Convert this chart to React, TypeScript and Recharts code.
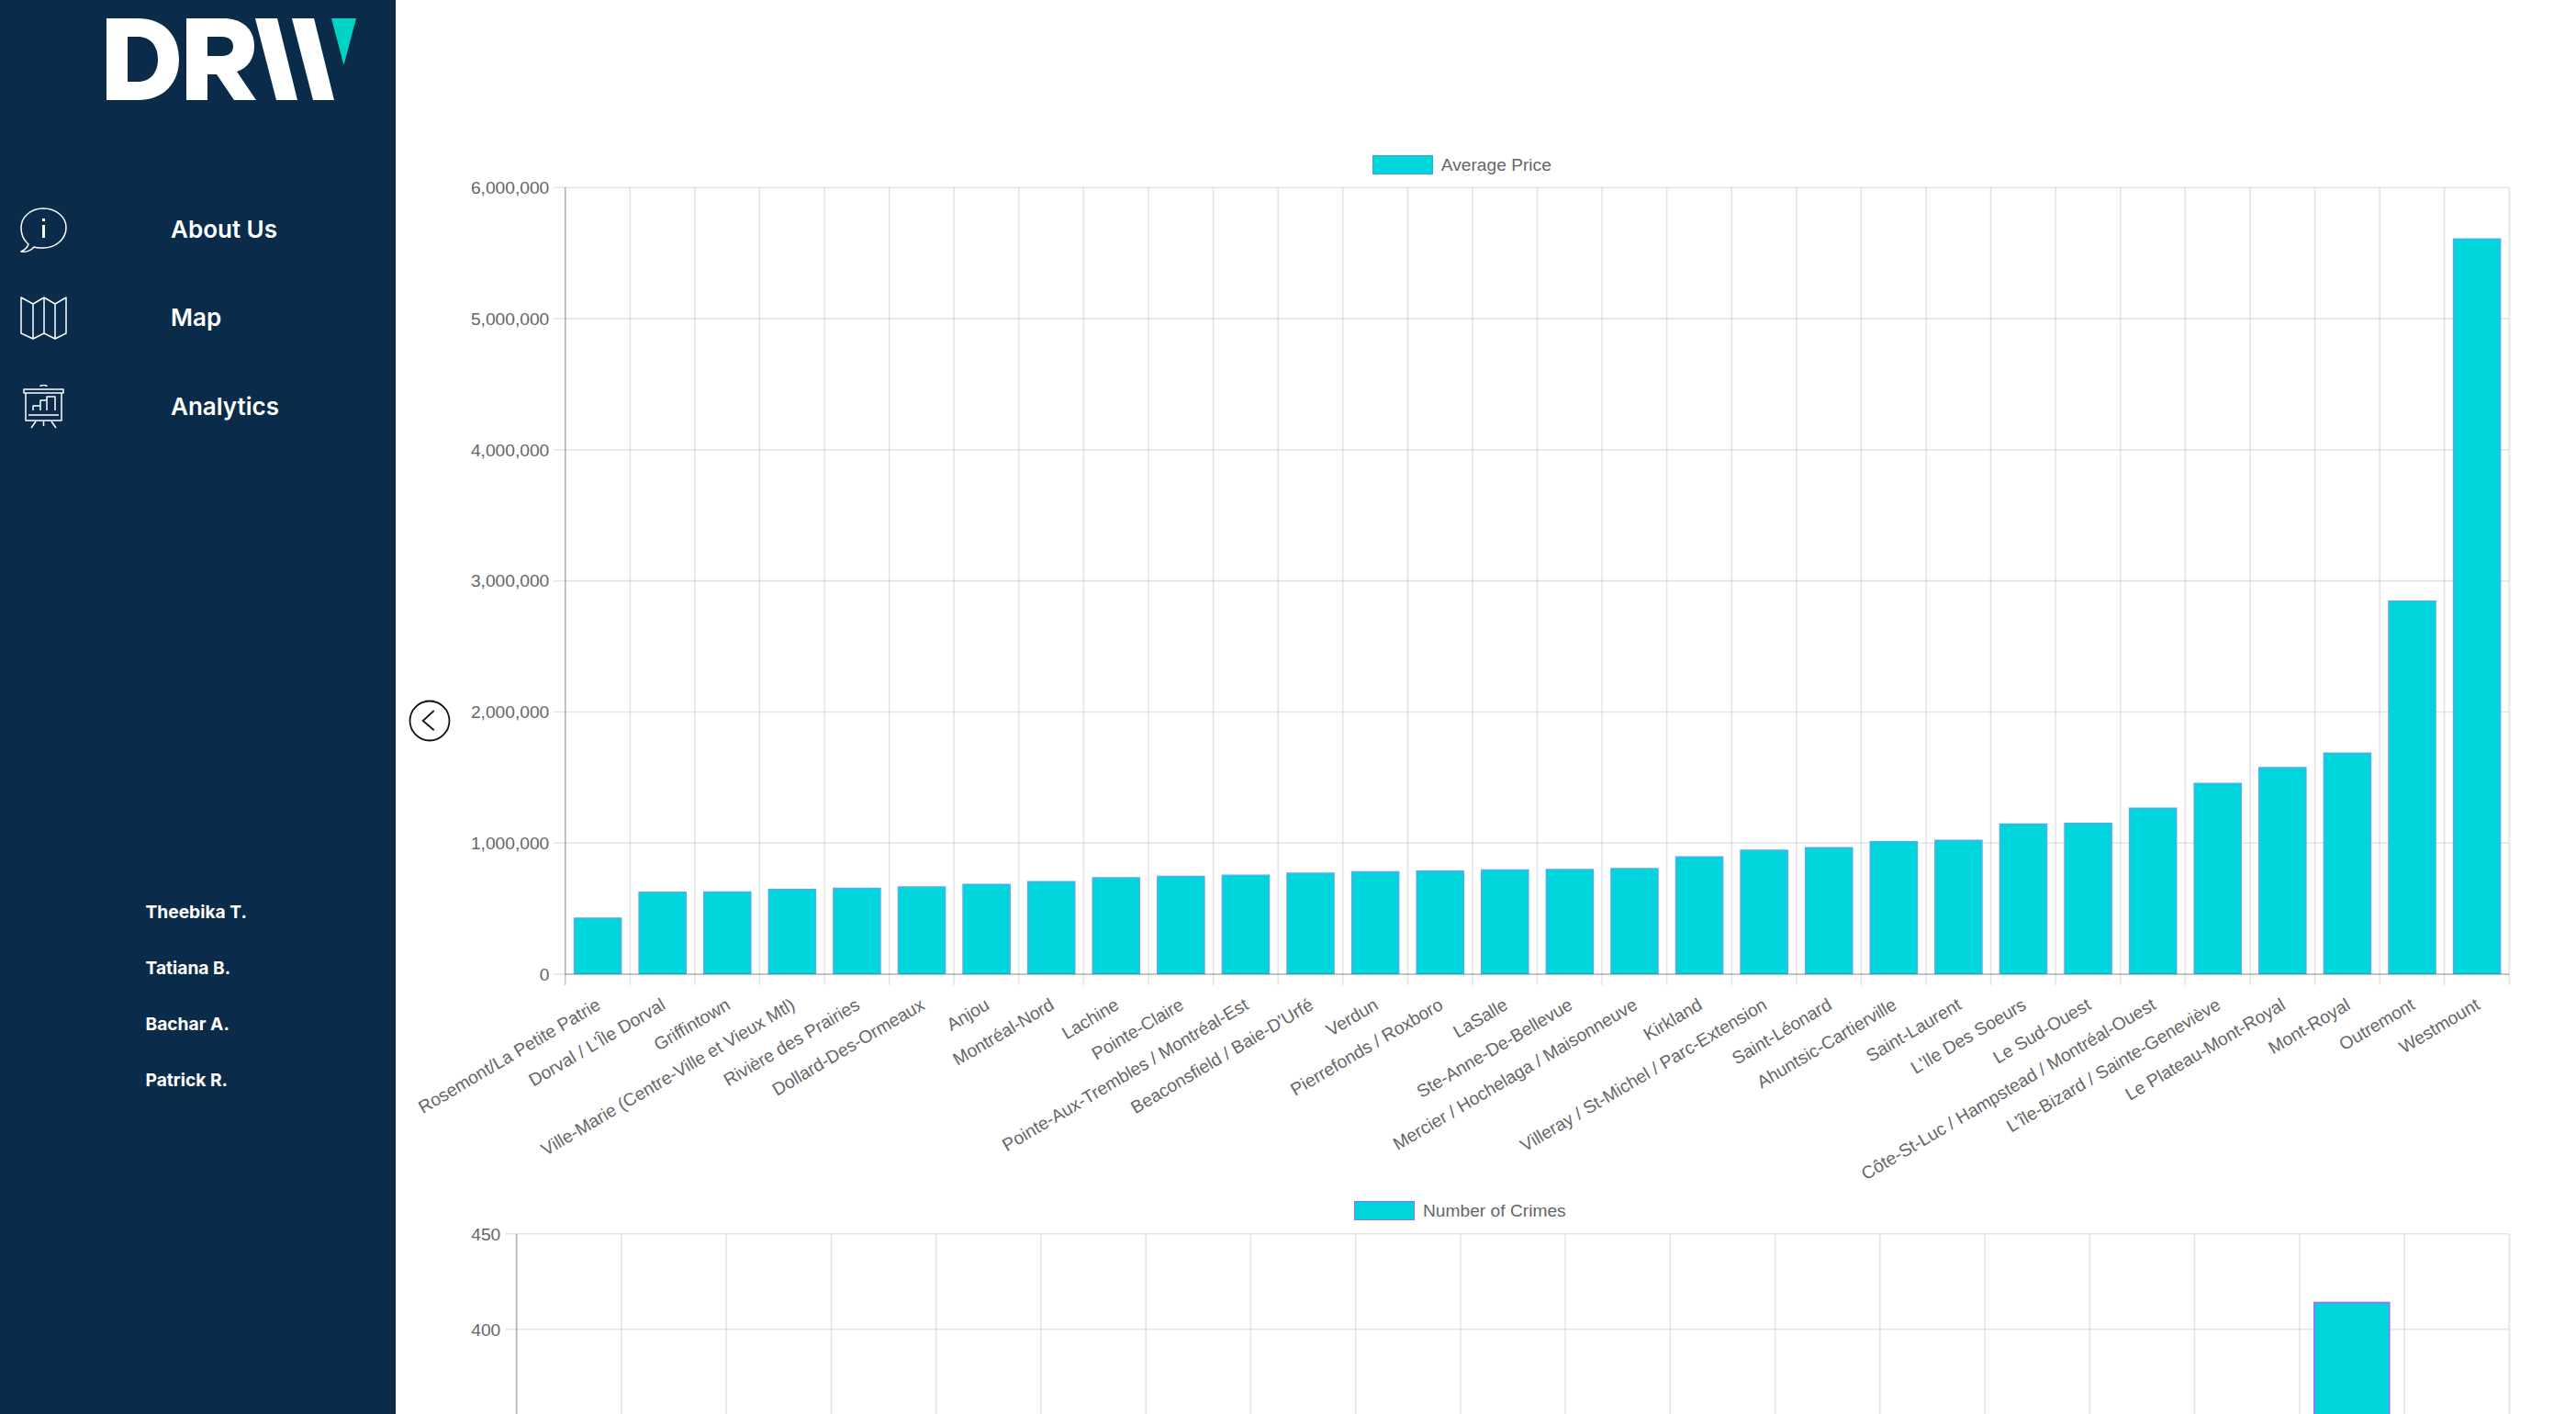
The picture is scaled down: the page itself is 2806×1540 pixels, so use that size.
import React from "react";
import { BarChart, Bar, XAxis, YAxis, CartesianGrid, Legend } from "recharts";

const neighbourhoods = ["Rosemont/La Petite Patrie","Dorval / L'Île Dorval","Griffintown","Ville-Marie (Centre-Ville et Vieux Mtl)","Rivière des Prairies","Dollard-Des-Ormeaux","Anjou","Montréal-Nord","Lachine","Pointe-Claire","Pointe-Aux-Trembles / Montréal-Est","Beaconsfield / Baie-D'Urfé","Verdun","Pierrefonds / Roxboro","LaSalle","Ste-Anne-De-Bellevue","Mercier / Hochelaga / Maisonneuve","Kirkland","Villeray / St-Michel / Parc-Extension","Saint-Léonard","Ahuntsic-Cartierville","Saint-Laurent","L'Ile Des Soeurs","Le Sud-Ouest","Côte-St-Luc / Hampstead / Montréal-Ouest","L'île-Bizard / Sainte-Geneviève","Le Plateau-Mont-Royal","Mont-Royal","Outremont","Westmount"];
const averagePrice = [427000,625000,627000,645000,655000,665000,685000,705000,735000,745000,755000,770000,780000,785000,795000,798000,805000,895000,945000,965000,1010000,1020000,1145000,1150000,1265000,1455000,1575000,1685000,2845000,5608000];
const priceTicks = [0,1000000,2000000,3000000,4000000,5000000,6000000];

const boroughs = ["Outremont","L'Île-Bizard","Anjou","Lachine","Saint-Léonard","LaSalle","Verdun","Montréal-Nord","Pierrefonds-Roxboro","Saint-Laurent","Le Sud-Ouest","Ahuntsic-Cartierville","Rivière-des-Prairies","Villeray","Rosemont","Mercier-Hochelaga","Le Plateau-Mont-Royal","Ville-Marie","Côte-des-Neiges"];
const crimes = [20,30,45,60,70,80,90,110,120,140,160,180,200,220,240,270,300,414,330];
const crimeTicks = [400,450];

const teamNames = ["Theebika T.","Tatiana B.","Bachar A.","Patrick R."];
const navItems = ["About Us","Map","Analytics"];

const priceData = neighbourhoods.map((name, i) => ({ name, value: averagePrice[i] }));
const crimeData = boroughs.map((name, i) => ({ name, value: crimes[i] }));

const FONT = "'Liberation Sans', Arial, sans-serif";
const GRID = "rgba(0,0,0,0.1)";
const AXIS = "rgba(0,0,0,0.22)";
const FILL = "#00d5db";
const fmt = (v: number) => v.toLocaleString("en-US");

const openBar = (stroke: string) => (p: any) => (
  <g>
    <rect x={p.x} y={p.y} width={p.width} height={p.height} fill={FILL} />
    <path d={`M${p.x},${p.y + p.height}V${p.y}H${p.x + p.width}V${p.y + p.height}`} fill="none" stroke={stroke} strokeWidth={1.6} />
  </g>
);

const boundaries = (n: number) => ({ offset }: any) => {
  const out: number[] = [];
  for (let i = 0; i <= n; i++) out.push(offset.left + (offset.width * i) / n);
  return out;
};

const XTick = (p: any) => {
  const bw = p.width / p.visibleTicksCount;
  const left = p.x - bw / 2;
  const cx = p.x + 1;
  const cy = p.y + 31;
  return (
    <g>
      <line x1={left} x2={left} y1={p.y} y2={p.y + 12} stroke={p.index === 0 ? AXIS : GRID} strokeWidth={1.6} />
      {p.index === p.visibleTicksCount - 1 && (
        <line x1={left + bw} x2={left + bw} y1={p.y} y2={p.y + 12} stroke={GRID} strokeWidth={1.6} />
      )}
      <text x={cx} y={cy} textAnchor="end" dominantBaseline="central" transform={`rotate(-30.6 ${cx} ${cy})`} fontFamily={FONT} fontSize={19.4} fill="#666">
        {p.payload.value}
      </text>
    </g>
  );
};

const legendContent = (stroke: string) => (p: any) => {
  const item = p.payload[0];
  return (
    <div style={{ display: "flex", alignItems: "center", whiteSpace: "nowrap" }}>
      <span style={{ width: 66, height: 21, boxSizing: "border-box", background: FILL, borderStyle: "solid", borderWidth: 1.6, borderColor: stroke, display: "inline-block" }} />
      <span style={{ marginLeft: 9, fontFamily: FONT, fontSize: 19.2, color: "#666", lineHeight: "21px" }}>{item?.value}</span>
    </div>
  );
};

const Logo = () => (
  <svg width={431} height={500} style={{ position: "absolute", left: 0, top: 0 }}>
    <path fill="#fff" fillRule="evenodd" d="M116,20H150C178,20 195,38 195,64.500C195,91 178,109 150,109H116ZM139,40V89H150C164,89 172,79 172,64.500C172,50 164,40 150,40Z" />
    <path fill="#fff" fillRule="evenodd" d="M203,20H243C265,20 277,32 277,50C277,64 270,74 258,78L279,109H255L236,81H226V109H203ZM226,40V61H242C249,61 254,57 254,50.500C254,44 249,40 242,40Z" />
    <path fill="#fff" d="M278,20H302L324,109H301Z" />
    <path fill="#fff" d="M318,20H342L364,109H341Z" />
    <path fill="#00d4c4" d="M361,20H388L374.500,71Z" />
    <g fill="none" stroke="#fff" strokeWidth={1.5} strokeLinejoin="round">
      <path d="M31,266C24,260 23,252 23,248C23,236 34,227 47,227C61,227 72,236 72,248C72,260 61,270 47,270C43,270 40,270 37,269C34,273 28,275 23,274C27,272 30,269 31,266Z" />
      <path d="M47.500,245V259M47.500,238V241" strokeWidth={3} />
      <path d="M23,324L36,331L48,324L60,331L72,324V363L60,369L48,363L36,369L23,363ZM36,331V369M48,324V363M60,331V369" />
      <path d="M26,424H69V428H26ZM28,428V458H67V428M31,452H64M44,421C44,419 51,419 51,421M39,459L34,466M47.500,459V464M56,459L61,466" />
      <path d="M36,447V442H44V447M44,447V436H51V447M51,447V432H60V447" />
    </g>
  </svg>
);

const PriceChart = () => (
  <div style={{ position: "absolute", left: 431, top: 0 }}>
    <BarChart width={2375} height={1300} data={priceData} barCategoryGap="14%" margin={{ top: 204.3, right: 72.7, bottom: 0, left: 0 }}>
      <CartesianGrid stroke={GRID} strokeWidth={1.6} verticalCoordinatesGenerator={boundaries(neighbourhoods.length)} />
      <XAxis dataKey="name" interval={0} height={239} tickLine={false} tickSize={0} tickMargin={0} axisLine={{ stroke: AXIS, strokeWidth: 1.6 }} tick={<XTick />} />
      <YAxis width={184.7} domain={[0, 6000000]} ticks={priceTicks} tickFormatter={fmt} tickSize={12.7} tickMargin={4.7} tickLine={{ stroke: GRID, strokeWidth: 1.6 }} axisLine={{ stroke: AXIS, strokeWidth: 1.6 }} tick={{ fontFamily: FONT, fontSize: 19.2, fill: "#666" }} />
      <Legend verticalAlign="middle" align="center" layout="horizontal" content={legendContent("#36a2eb")} wrapperStyle={{ left: 1063.7, top: 169, width: "auto", height: 21 }} />
      <Bar dataKey="value" name="Average Price" isAnimationActive={false} shape={openBar("#4db0ee")} />
    </BarChart>
  </div>
);

const CrimeChart = () => (
  <div style={{ position: "absolute", left: 431, top: 1291 }}>
    <BarChart width={2375} height={1060} data={crimeData} barCategoryGap="14%" margin={{ top: 52.7, right: 72.7, bottom: 0, left: 0 }}>
      <CartesianGrid stroke={GRID} strokeWidth={1.6} verticalCoordinatesGenerator={boundaries(boroughs.length)} />
      <XAxis dataKey="name" interval={0} height={71} tick={false} tickLine={false} axisLine={{ stroke: AXIS, strokeWidth: 1.6 }} />
      <YAxis width={131.7} domain={[0, 450]} ticks={crimeTicks} tickSize={12.7} tickMargin={4.7} tickLine={{ stroke: GRID, strokeWidth: 1.6 }} axisLine={{ stroke: AXIS, strokeWidth: 1.6 }} tick={{ fontFamily: FONT, fontSize: 19.2, fill: "#666" }} />
      <Legend verticalAlign="middle" align="center" layout="horizontal" content={legendContent("#9966ff")} wrapperStyle={{ left: 1044, top: 17, width: "auto", height: 21 }} />
      <Bar dataKey="value" name="Number of Crimes" isAnimationActive={false} shape={openBar("#a36cff")} />
    </BarChart>
  </div>
);

const navBase = [261, 357, 454];
const teamBase = [1001, 1062, 1123, 1184];
const SIDE_FONT = "Inter, 'Open Sans', sans-serif";

export default function App() {
  return (
    <div style={{ position: "fixed", left: 0, top: 0, width: 2806, height: 1540, overflow: "hidden", background: "#fff" }}>
      <div style={{ position: "absolute", left: 0, top: 0, width: 431, height: 1540, background: "#0a2c4a" }} />
      <Logo />
      {navItems.map((t, i) => (
        <div key={t} style={{ position: "absolute", left: 186, top: navBase[i] - 30, height: 38, lineHeight: "38px", fontFamily: SIDE_FONT, fontWeight: 600, fontSize: 26, color: "#fff", whiteSpace: "nowrap" }}>{t}</div>
      ))}
      {teamNames.map((t, i) => (
        <div key={t} style={{ position: "absolute", left: 158.500, top: teamBase[i] - 22, height: 28, lineHeight: "28px", fontFamily: SIDE_FONT, fontWeight: 700, fontSize: 19.2, color: "#fff", whiteSpace: "nowrap" }}>{t}</div>
      ))}
      <svg width={60} height={60} style={{ position: "absolute", left: 438, top: 755 }}>
        <circle cx={30} cy={30} r={21.5} fill="none" stroke="#111" strokeWidth={1.8} />
        <path d="M34.700,19L22.700,30L34.700,40.300" fill="none" stroke="#111" strokeWidth={1.8} />
      </svg>
      <PriceChart />
      <CrimeChart />
    </div>
  );
}
